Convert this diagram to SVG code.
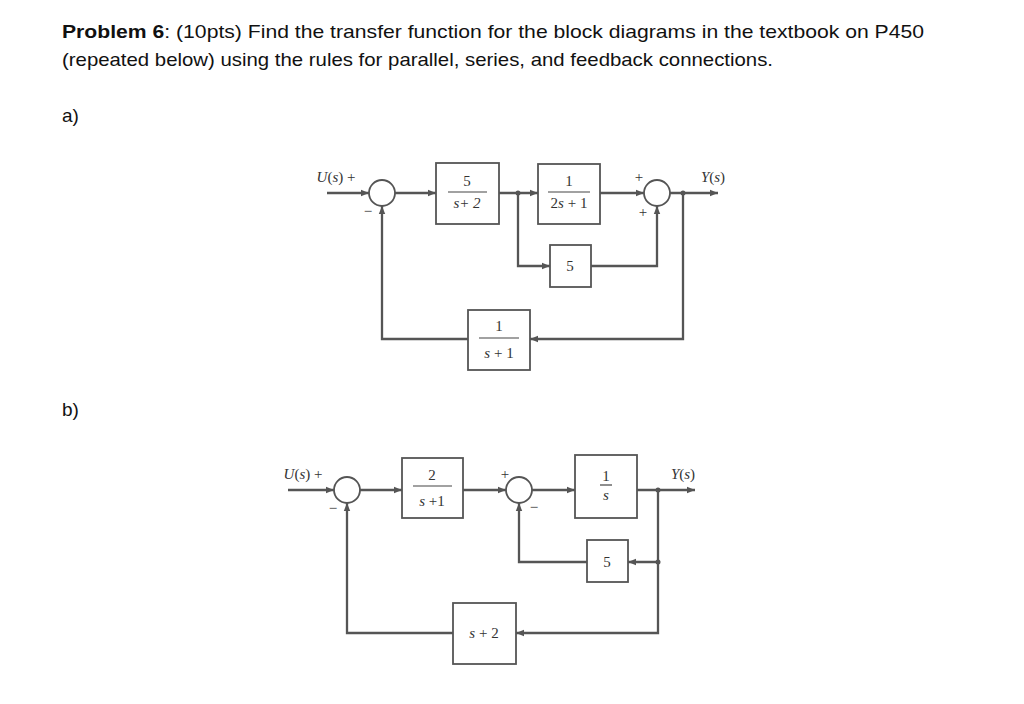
<svg xmlns="http://www.w3.org/2000/svg" width="1024" height="704" viewBox="0 0 1024 704">
<defs>
<marker id="ar" viewBox="0 0 10 10" refX="10" refY="5" markerWidth="13" markerHeight="8" orient="auto" markerUnits="userSpaceOnUse"><path d="M0,1 L10,5 L0,9 z" fill="#555"/></marker>
</defs>
<style>
.t{font-family:"Liberation Sans",Arial,sans-serif;font-size:19px;fill:#111}
.m{font-family:"Liberation Serif","Times New Roman",serif;font-size:15px;fill:#333;text-anchor:middle}
.i{font-style:italic}
.b{fill:#fff;stroke:#555;stroke-width:1.8}
.c{fill:none;stroke:#555;stroke-width:2.3}
.f{stroke:#444;stroke-width:1.2}
.d{fill:#555}
</style>
<rect width="1024" height="704" fill="#fff"/>
<text class="t" x="62" y="38" textLength="862" lengthAdjust="spacingAndGlyphs"><tspan font-weight="bold">Problem 6</tspan>: (10pts) Find the transfer function for the block diagrams in the textbook on P450</text>
<text class="t" x="62" y="66" textLength="711" lengthAdjust="spacingAndGlyphs">(repeated below)  using the rules for parallel, series, and feedback connections.</text>
<text class="t" x="62" y="122">a)</text>
<text class="t" x="62" y="416">b)</text>

<g id="a-connectors" class="c">
<path d="M327,193 H369" marker-end="url(#ar)"/>
<path d="M395,193 H436" marker-end="url(#ar)"/>
<path d="M499,193 H538" marker-end="url(#ar)"/>
<path d="M518,193 V266 H550" marker-end="url(#ar)"/>
<path d="M600,193 H644" marker-end="url(#ar)"/>
<path d="M591,266 H657 V206" marker-end="url(#ar)"/>
<path d="M670,193 H718" marker-end="url(#ar)"/>
<path d="M683,193 V339 H530" marker-end="url(#ar)"/>
<path d="M468,339 H382 V206" marker-end="url(#ar)"/>
</g>
<circle class="d" cx="518" cy="193" r="2.5"/><circle class="d" cx="683" cy="193" r="2.5"/>
<g id="a-sum1"><circle class="b" cx="382" cy="193" r="13"/></g>
<g id="a-sum2"><circle class="b" cx="657" cy="193" r="13"/></g>
<g id="a-g1"><rect class="b" x="436" y="163" width="63" height="61"/><text class="m" x="467" y="186">5</text><line class="f" x1="448" y1="192" x2="487" y2="192"/><text class="m i" x="467" y="208">s+ 2</text></g>
<g id="a-g2"><rect class="b" x="538" y="164" width="62" height="60"/><text class="m" x="569" y="186">1</text><line class="f" x1="548" y1="192" x2="590" y2="192"/><text class="m" x="569" y="208">2<tspan class="i">s</tspan> + 1</text></g>
<g id="a-g3"><rect class="b" x="550" y="245" width="41" height="42"/><text class="m" x="570" y="271">5</text></g>
<g id="a-h"><rect class="b" x="468" y="310" width="62" height="60"/><text class="m" x="499" y="331">1</text><line class="f" x1="479" y1="338" x2="519" y2="338"/><text class="m" x="499" y="358"><tspan class="i">s</tspan> + 1</text></g>
<text class="m" x="336" y="182"><tspan class="i">U</tspan>(<tspan class="i">s</tspan>) +</text>
<text class="m" x="368" y="216">−</text>
<text class="m" x="639" y="182">+</text>
<text class="m" x="643" y="217">+</text>
<text class="m" x="713" y="182"><tspan class="i">Y</tspan>(<tspan class="i">s</tspan>)</text>

<g id="b-connectors" class="c">
<path d="M288,490 H334" marker-end="url(#ar)"/>
<path d="M360,490 H402" marker-end="url(#ar)"/>
<path d="M463,490 H506" marker-end="url(#ar)"/>
<path d="M532,490 H575" marker-end="url(#ar)"/>
<path d="M637,490 H695" marker-end="url(#ar)"/>
<path d="M658,490 V562 H628" marker-end="url(#ar)"/>
<path d="M587,562 H519 V503" marker-end="url(#ar)"/>
<path d="M658,562 V633 H516" marker-end="url(#ar)"/>
<path d="M453,633 H347 V503" marker-end="url(#ar)"/>
</g>
<circle class="d" cx="658" cy="490" r="2.5"/><circle class="d" cx="658" cy="562" r="2.5"/>
<g id="b-sum1"><circle class="b" cx="347" cy="490" r="13"/></g>
<g id="b-sum2"><circle class="b" cx="519" cy="490" r="13"/></g>
<g id="b-g1"><rect class="b" x="402" y="458" width="61" height="60"/><text class="m" x="432" y="480">2</text><line class="f" x1="413" y1="486" x2="452" y2="486"/><text class="m" x="432" y="506"><tspan class="i">s</tspan> +1</text></g>
<g id="b-g2"><rect class="b" x="575" y="455" width="62" height="63"/><text class="m" x="606" y="481">1</text><line class="f" x1="600" y1="485" x2="612" y2="485"/><text class="m i" x="606" y="500">s</text></g>
<g id="b-g3"><rect class="b" x="587" y="540" width="41" height="42"/><text class="m" x="607" y="567">5</text></g>
<g id="b-h"><rect class="b" x="453" y="603" width="63" height="61"/><text class="m" x="484" y="638"><tspan class="i">s</tspan> + 2</text></g>
<text class="m" x="303" y="479"><tspan class="i">U</tspan>(<tspan class="i">s</tspan>) +</text>
<text class="m" x="333" y="513">−</text>
<text class="m" x="505" y="479">+</text>
<text class="m" x="534" y="512">−</text>
<text class="m" x="683" y="479"><tspan class="i">Y</tspan>(<tspan class="i">s</tspan>)</text>
</svg>
